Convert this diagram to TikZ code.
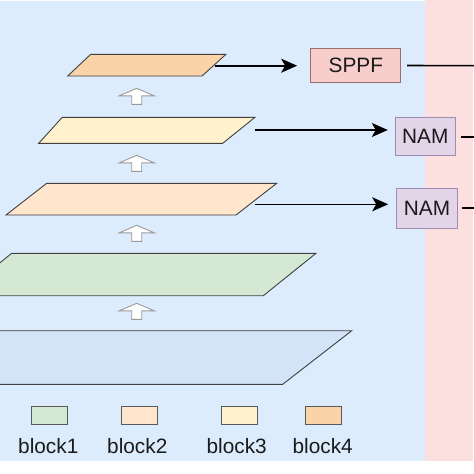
\documentclass[tikz,border=0pt]{standalone}
\usepackage{fontspec}
\setmainfont{Liberation Sans}
\usetikzlibrary{arrows.meta}
\definecolor{bgblue}{HTML}{DDECFD}
\definecolor{bgpink}{HTML}{FCDFDF}
\definecolor{cblockzero}{HTML}{D3E3F8}
\definecolor{cblockone}{HTML}{D5E8D4}
\definecolor{cblocktwo}{HTML}{FFE6CC}
\definecolor{cblockthree}{HTML}{FFF2CC}
\definecolor{cblockfour}{HTML}{FAD4A8}
\definecolor{sppffill}{HTML}{F8CECC}
\definecolor{sppfline}{HTML}{9A6E6C}
\definecolor{namfill}{HTML}{E1D5E7}
\definecolor{namline}{HTML}{A08CB0}
\definecolor{txt}{HTML}{1A1A1A}
\tikzset{
  layer/.style={draw=black!75, line width=0.9pt},
  modbox/.style={draw, line width=1pt, inner sep=0pt, text=txt,
    font=\fontsize{20.8}{24}\selectfont},
  feed/.style={line width=1.6pt, -{Stealth[length=16pt,width=14pt,inset=4pt]}},
  outline/.style={line width=1.6pt},
  legsq/.style={draw=black!65, line width=0.9pt, minimum width=36.7pt, minimum height=18.3pt, inner sep=0pt},
  leglab/.style={text=txt, font=\fontsize{20.8}{24}\selectfont, inner sep=0pt},
  hollow/.style={draw=black!40, fill=white, line width=0.9pt},
  pics/uparr/.style={code={
    \path[hollow] (0,0) -- (17.5,7.5) -- (5,7.5) -- (5,16) -- (-5,16) -- (-5,7.5) -- (-17.5,7.5) -- cycle;
  }}
}
\begin{document}
\begin{tikzpicture}[x=1pt,y=-1pt]
\useasboundingbox (0,0) rectangle (474,474);
% backgrounds
\fill[bgblue] (0,1) rectangle (424.5,461);
\fill[bgpink] (424.5,0) rectangle (473,461);
% layers
\path[layer, fill=cblockzero] (-60,330.7) -- (351.7,330.7) -- (282.7,384.3) -- (-60,384.3) -- cycle;
\path[layer, fill=cblockone] (11.7,253.3) -- (316,253.3) -- (263.3,295.7) -- (-41,295.7) -- cycle;
\path[layer, fill=cblocktwo] (46.7,183.3) -- (276.7,183.3) -- (236,215) -- (6,215) -- cycle;
\path[layer, fill=cblockthree] (62.3,117.3) -- (255,117.3) -- (222.7,143.3) -- (38.7,143.3) -- cycle;
\path[layer, fill=cblockfour] (90.7,54.3) -- (226,54.3) -- (202,76) -- (67.7,76) -- cycle;
% hollow arrows
\pic at (136.7,88.3) {uparr};
\pic at (136.7,155.3) {uparr};
\pic at (136.7,225.3) {uparr};
\pic at (136.7,303.3) {uparr};
% module boxes
\node[modbox, draw=sppfline, fill=sppffill, minimum width=90.3pt, minimum height=34.4pt] (sppf) at (355.8,65.5) {SPPF};
\node[modbox, draw=namline, fill=namfill, minimum width=60pt, minimum height=38.3pt] (namA) at (425.3,136.8) {NAM};
\node[modbox, draw=namline, fill=namfill, minimum width=60.6pt, minimum height=40.3pt] (namB) at (427,208.2) {NAM};
% connector start/end points
\coordinate (s4) at (215,65.7);
\coordinate (s3) at (255,130);
\coordinate (s2) at (255,204.3);
\coordinate (e4) at (474,65.7);
\coordinate (e3) at (474,136.8);
\coordinate (e2) at (474,208.2);
\draw[feed] (s4) -- ([xshift=-13pt]sppf.west |- s4);
\draw[feed] (s3) -- ([xshift=-7pt]namA.west |- s3);
\draw[feed] (s2) -- ([xshift=-8pt]namB.west |- s2);
\draw[outline] ([xshift=5.7pt]sppf.east) -- (e4);
\draw[outline] ([xshift=4.7pt]namA.east) -- (e3);
\draw[outline] ([xshift=3.7pt]namB.east) -- (e2);
% legend
\node[legsq, fill=cblockone] (l1) at (49.3,415.2) {};
\node[legsq, fill=cblocktwo] (l2) at (139.5,415.2) {};
\node[legsq, fill=cblockthree] (l3) at (239.3,415.2) {};
\node[legsq, fill=cblockfour] (l4) at (323.3,415.2) {};
\node[leglab] (t1) at (48.3,445.7) {block1};
\node[leglab] (t2) at (137.3,445.7) {block2};
\node[leglab] (t3) at (236.7,445.7) {block3};
\node[leglab] (t4) at (322.7,445.7) {block4};
\end{tikzpicture}
\end{document}
